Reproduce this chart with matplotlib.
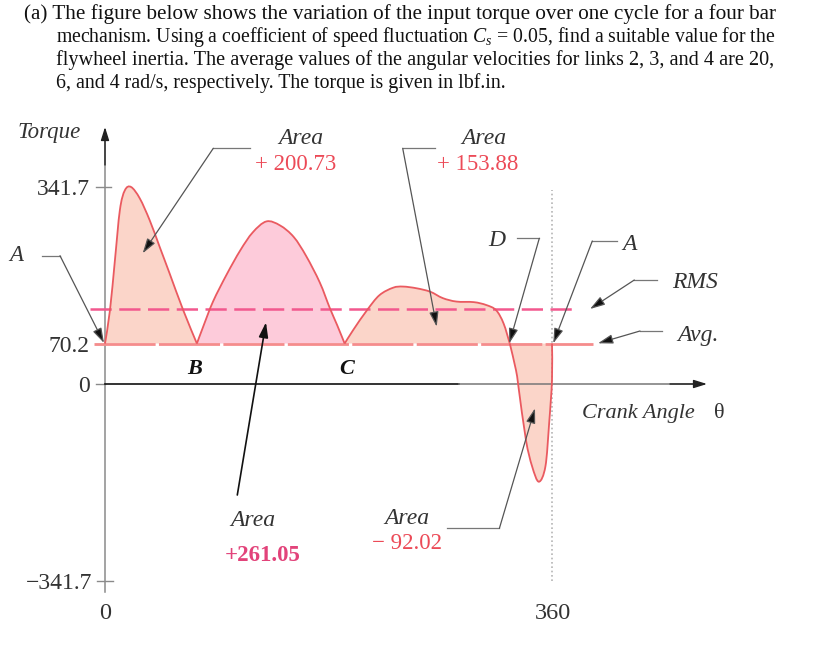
import matplotlib
matplotlib.use("Agg")
import matplotlib.pyplot as plt
from matplotlib.path import Path
from matplotlib.patches import PathPatch
from matplotlib.transforms import Affine2D
import numpy as np

plt.rcParams['font.family'] = ['Liberation Serif', 'DejaVu Serif']
plt.rcParams['mathtext.fontset'] = 'custom'
plt.rcParams['mathtext.it'] = 'Liberation Serif:italic'
plt.rcParams['mathtext.rm'] = 'Liberation Serif'

# --- data: crank angle (deg), torque (lbf.in) ---
theta_lobe1 = [0, 4, 8, 12, 16, 21, 28, 36, 44, 52, 63, 74]
torque_lobe1 = [70.2, 128, 215, 302, 336, 341.7, 322, 284, 238, 192, 128, 70.2]
theta_lobe2 = [74, 79, 87, 98, 109, 119, 130, 141, 152, 162, 173, 181, 187, 193]
torque_lobe2 = [70.2, 99, 143, 190, 232, 263, 282, 275, 255, 222, 176, 132, 102, 70.2]
theta_lobe3 = [193, 200, 211, 221, 232, 240, 251, 262, 272, 283, 297, 307, 315, 321, 326]
torque_lobe3 = [70.2, 94, 128, 154, 167, 169, 166, 160, 149, 143, 142, 137, 128, 105, 70.2]
theta_lobe4 = [326, 331, 333, 339, 344, 349.4, 354.7, 357.7, 360, 360]
torque_lobe4 = [70.2, 24, -5, -97, -143, -169.5, -143, -68, 7, 70.2]

avg_torque = 70.2
rms_torque = 130
rms_span = [-12, 378]
avg_span = [-9, 393]
y_tick_values = [341.7, 70.2, 0, -341.7]
y_tick_labels = ['341.7', '70.2', '0', '\u2212341.7']
x_tick_values = [0, 360]
x_tick_labels = ['0', '360']
title_lines = [
    "(a) The figure below shows the variation of the input torque over one cycle for a four bar",
    "mechanism. Using a coefficient of speed fluctuation $\\mathit{C_s}$ = 0.05, find a suitable value for the",
    "flywheel inertia. The average values of the angular velocities for links 2, 3, and 4 are 20,",
    "6, and 4 rad/s, respectively. The torque is given in lbf.in.",
]

W, H = 833, 658
fig = plt.figure(figsize=(W / 100, H / 100), dpi=100)
ax = fig.add_axes([0, 0, 1, 1])
sx, sy = 447 / 360, 197 / 341.7
ax.set_xlim(-105 / sx, (W - 105) / sx)
ax.set_ylim((384 - H) / sy, 384 / sy)
ax.axis('off')

# pixel-space transform for annotation layout (origin top-left)
px = Affine2D().scale(1 / W, -1 / H).translate(0, 1) + fig.transFigure

RED = '#EA5A60'
SALMON = '#FBD5C9'
PINK = '#FDCBDA'
RMS = '#F2588E'
AVG = '#F58C8C'
GRAY = '#8A8A8A'
TXT = '#333333'
LABEL_RED = '#EC4A57'


def smooth_path(t, v):
    """Bezier path through the read points (no extra data points)."""
    p = np.column_stack([t, v]).astype(float)
    verts = [p[0]]
    codes = [Path.MOVETO]
    for i in range(len(p) - 1):
        a = p[max(i - 1, 0)]
        b = p[i]
        c = p[i + 1]
        d = p[min(i + 2, len(p) - 1)]
        verts += [b + (c - a) / 6, c - (d - b) / 6, c]
        codes += [Path.CURVE4] * 3
    return Path(verts, codes)


# lobes: fill and outline
for t, v, c in [(theta_lobe1, torque_lobe1, SALMON), (theta_lobe2, torque_lobe2, PINK),
                (theta_lobe3, torque_lobe3, SALMON), (theta_lobe4, torque_lobe4, SALMON)]:
    curve = smooth_path(t, v)
    ax.add_patch(PathPatch(curve, fc=c, ec='none', lw=0, zorder=1))
    ax.add_patch(PathPatch(curve, fc='none', ec=RED, lw=1.3, zorder=5))

# dotted 360 guide
ax.plot([360, 360], [-341.7, 336], color='#B5B5B5', lw=1.2, ls=(0, (1, 1.6)), zorder=2)

# axes lines
ax.plot([0, 0], [-361, 440], color=GRAY, lw=1.1, zorder=2)
ax.plot([0, 285], [0, 0], color='#111111', lw=1.2, zorder=3)
ax.plot([285, 475], [0, 0], color='#777777', lw=1.1, zorder=3)
ax.annotate('', xy=(707, 384), xytext=(670, 384), xycoords=px, textcoords=px,
            arrowprops=dict(arrowstyle='-|>,head_length=0.8,head_width=0.25', color='#222222', lw=1, shrinkA=0, shrinkB=0))
ax.annotate('', xy=(105, 127), xytext=(105, 165), xycoords=px, textcoords=px,
            arrowprops=dict(arrowstyle='-|>,head_length=0.8,head_width=0.25', color='#222222', lw=1, shrinkA=0, shrinkB=0))

# ticks on y
for v, x0, x1 in zip(y_tick_values, [96, 96, 96, 97], [111, 105, 105, 113]):
    yy = 384 - v * sy
    ax.plot([x0, x1], [yy, yy], color=GRAY, lw=1, transform=px, zorder=2)

# avg / rms lines
ax.plot(avg_span, [avg_torque] * 2, color=AVG, lw=2, ls=(0, (22, 1.2)), zorder=4)
ax.plot(rms_span, [rms_torque] * 2, color=RMS, lw=1.8, ls=(0, (8.5, 3)), zorder=4)


# leaders
def leader(points, color='#555555', lw=0.9):
    xs, ys = zip(*points)
    if len(points) > 2:
        ax.plot(xs[:-1], ys[:-1], color='#777777', lw=lw, transform=px, zorder=6)
    ax.annotate('', xy=points[-1], xytext=points[-2], xycoords=px, textcoords=px, zorder=7,
                arrowprops=dict(arrowstyle='-|>,head_length=0.9,head_width=0.28', color=color, lw=lw,
                                fc='#111111', ec=color, shrinkA=0, shrinkB=0))


leader([(250, 148.3), (213.3, 148.3), (142.7, 253.3)])
leader([(41.7, 255.7), (60, 255.7), (104, 343)])
leader([(435, 148.3), (402.7, 148.3), (436.7, 326.7)])
leader([(516.7, 238.3), (539.3, 238.3), (509.3, 343.3)])
leader([(616.7, 241), (592.3, 241), (553.3, 343.3)])
leader([(657.3, 280), (634.3, 280), (590, 309)])
leader([(662.3, 331), (640, 331), (598, 343.3)])
leader([(237.3, 495), (266, 322.3)], color='#111111', lw=1.2)
leader([(446.6, 528.3), (499.4, 528.3), (535, 408.3)])


def T(x, y, s, size=17, color=TXT, ha='center', style='normal', weight='normal'):
    ax.text(x, y + 2.5, s, transform=px, fontsize=size, color=color, ha=ha, va='center',
            style=style, weight=weight, zorder=8)


# title
for i, (line, x0, fs) in enumerate(zip(title_lines, [24, 56, 56, 56], [15.2, 14.2, 14.55, 14.3])):
    ax.text(x0, 14 + i * 23, line, transform=px, fontsize=fs, color='#111111', ha='left', va='center')

# tick labels
for v, s, xr in zip(y_tick_values, y_tick_labels, [90, 90, 90, 92]):
    T(xr, 384 - v * sy, s, ha='right')
for v, s in zip(x_tick_values, x_tick_labels):
    T(105 + v * sx + (1 if v else 0), 611, s, 17.5)

# labels
T(49, 130, 'Torque', 16.5, style='italic')
T(301, 136, 'Area', 17, style='italic')
T(296, 162, '+ 200.73', 16.5, LABEL_RED)
T(484, 136, 'Area', 17, style='italic')
T(478, 162, '+ 153.88', 16.5, LABEL_RED)
T(16, 253, 'A', 16.5, style='italic')
T(195, 367, 'B', 16, '#111111', style='italic', weight='bold')
T(347, 367, 'C', 16, '#111111', style='italic', weight='bold')
T(497, 238, 'D', 17, style='italic')
T(629, 242, 'A', 17, style='italic')
T(695, 280, 'RMS', 17, style='italic')
T(698, 333, 'Avg.', 17, style='italic')
T(638, 411, 'Crank Angle', 16, style='italic')
T(719, 411, '\u03b8', 16)
T(253, 518, 'Area', 17, style='italic')
T(263, 553, '+261.05', 16.5, '#E2437A', weight='bold')
T(407, 516, 'Area', 17, style='italic')
T(407, 541, '\u2212 92.02', 16.5, LABEL_RED)

fig.savefig('out.png', dpi=100)
